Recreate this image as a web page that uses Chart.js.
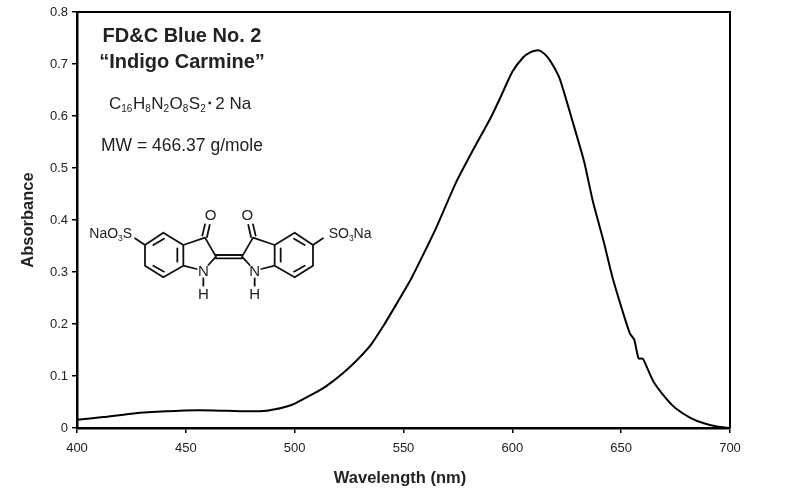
<!DOCTYPE html>
<html>
<head>
<meta charset="utf-8">
<title>FD&amp;C Blue No. 2</title>
<script src="https://cdn.jsdelivr.net/npm/chart.js@4"></script>
<style>
  html, body { margin: 0; padding: 0; background: #fff; }
  canvas { display: block; }
</style>
</head>
<body>
<canvas id="chart" width="800" height="490"></canvas>
<script>
// Данные кривой поглощения
const wavelengths = [400, 412, 426, 441, 456, 469, 480, 487, 491, 496, 500, 505, 510, 515, 522, 528, 535, 541, 547, 553, 559, 565, 574, 582, 590, 595, 600, 605, 608, 611, 613, 616, 619, 622, 628, 633, 637, 642, 646, 651, 654, 656, 658, 660, 662, 665, 671, 675, 682, 688, 694, 700];
const absorbance = [0.016, 0.021, 0.028, 0.032, 0.034, 0.033, 0.032, 0.033, 0.036, 0.041, 0.047, 0.058, 0.069, 0.082, 0.105, 0.128, 0.160, 0.198, 0.240, 0.283, 0.333, 0.385, 0.471, 0.535, 0.596, 0.640, 0.685, 0.713, 0.722, 0.726, 0.725, 0.714, 0.695, 0.669, 0.585, 0.512, 0.436, 0.358, 0.290, 0.220, 0.182, 0.170, 0.134, 0.133, 0.115, 0.088, 0.055, 0.038, 0.019, 0.009, 0.003, 0];
const xTicks = [400, 450, 500, 550, 600, 650, 700];
const yTicks = ['0', '0.1', '0.2', '0.3', '0.4', '0.5', '0.6', '0.7', '0.8'];

const FONT = '"Liberation Sans", Arial, sans-serif';

// Подпись с подстрочными индексами: [текст, индекс]
const formulaParts = [['C', '16'], ['H', '8'], ['N', '2'], ['O', '8'], ['S', '2']];

function drawText(ctx, text, x, y, font, align) {
    ctx.font = font;
    ctx.textAlign = align || 'left';
    ctx.textBaseline = 'alphabetic';
    ctx.fillText(text, x, y);
}

function drawFormula(ctx, x, y) {
    let cx = x;
    formulaParts.forEach(part => {
        drawText(ctx, part[0], cx, y, '17px ' + FONT);
        cx += ctx.measureText(part[0]).width;
        drawText(ctx, part[1], cx, y + 3, '10px ' + FONT);
        cx += ctx.measureText(part[1]).width + 0.5;
    });
    ctx.beginPath();
    ctx.arc(cx + 3.5, y - 6, 1.4, 0, Math.PI * 2);
    ctx.fill();
    drawText(ctx, '2 Na', cx + 9, y, '17px ' + FONT);
}

// Структурная формула: координаты относительно кропа, как на картинке
function drawMolecule(ctx) {
    const px = v => 80 + v / 3;
    const py = v => 195 + v / 3;
    const mirror = v => 894 - v;
    const seg = (a, b, c, d) => {
        ctx.moveTo(px(a), py(b));
        ctx.lineTo(px(c), py(d));
    };
    const both = (a, b, c, d) => {
        seg(a, b, c, d);
        seg(mirror(a), b, mirror(c), d);
    };

    ctx.strokeStyle = '#111';
    ctx.lineWidth = 1.8;
    ctx.lineCap = 'round';
    ctx.beginPath();
    // бензольные кольца
    both(195, 150, 250, 113);
    both(250, 113, 310, 150);
    both(310, 150, 310, 212);
    both(310, 212, 250, 247);
    both(250, 247, 195, 212);
    both(195, 212, 195, 150);
    both(220, 150, 252, 131);
    both(292, 160, 292, 200);
    both(220, 212, 252, 230);
    // пятичленные кольца
    both(310, 150, 375, 128);
    both(375, 128, 408, 185);
    both(408, 185, 385, 210);
    both(350, 222, 310, 212);
    // C=O
    both(367, 122, 375, 88);
    both(381, 126, 389, 90);
    // N-H
    both(370, 250, 370, 272);
    // S
    both(195, 150, 165, 130);
    // центральная двойная связь
    seg(408, 180, 486, 180);
    seg(408, 190, 486, 190);
    ctx.stroke();

    ctx.fillStyle = '#222';
    const f = '15px ' + FONT;
    drawText(ctx, 'O', px(392), py(75), f, 'center');
    drawText(ctx, 'O', px(mirror(392)), py(75), f, 'center');
    drawText(ctx, 'N', px(370), py(243), f, 'center');
    drawText(ctx, 'N', px(mirror(370)), py(243), f, 'center');
    drawText(ctx, 'H', px(370), py(312), f, 'center');
    drawText(ctx, 'H', px(mirror(370)), py(312), f, 'center');

    // NaO3S слева
    const g = '14px ' + FONT;
    const s = '8.5px ' + FONT;
    let x = px(28);
    const y = py(129);
    drawText(ctx, 'NaO', x, y, g);
    x += ctx.measureText('NaO').width;
    drawText(ctx, '3', x, y + 3, s);
    x += ctx.measureText('3').width;
    drawText(ctx, 'S', x, y, g);
    // SO3Na справа
    x = px(746);
    drawText(ctx, 'SO', x, y, g);
    x += ctx.measureText('SO').width;
    drawText(ctx, '3', x, y + 3, s);
    x += ctx.measureText('3').width;
    drawText(ctx, 'Na', x, y, g);
}

const annotationsPlugin = {
    id: 'annotations',
    afterDraw(chart) {
        const ctx = chart.ctx;
        const area = chart.chartArea;
        ctx.save();
        // рамка сверху и справа
        ctx.strokeStyle = '#000';
        ctx.lineWidth = 2;
        ctx.beginPath();
        ctx.moveTo(area.left, area.top);
        ctx.lineTo(area.right, area.top);
        ctx.lineTo(area.right, area.bottom);
        ctx.stroke();

        ctx.fillStyle = '#222';
        drawText(ctx, 'FD&C Blue No. 2', 182, 42, 'bold 20px ' + FONT, 'center');
        drawText(ctx, '\u201CIndigo Carmine\u201D', 182, 68, 'bold 20px ' + FONT, 'center');
        drawFormula(ctx, 109, 109);
        drawText(ctx, 'MW = 466.37 g/mole', 182, 151, '17.5px ' + FONT, 'center');
        // подпись оси X чуть левее центра оси, как на оригинале
        drawText(ctx, 'Wavelength (nm)', 400, 483, 'bold 16.5px ' + FONT, 'center');
        drawMolecule(ctx);
        ctx.restore();
    }
};

new Chart(document.getElementById('chart').getContext('2d'), {
    type: 'line',
    data: {
        datasets: [{
            data: wavelengths.map((w, i) => ({ x: w, y: absorbance[i] })),
            borderColor: '#000',
            borderWidth: 2,
            pointRadius: 0,
            tension: 0.2,
            fill: false
        }]
    },
    options: {
        responsive: false,
        animation: false,
        layout: { padding: { top: 12, left: 19, right: 70, bottom: 2 } },
        plugins: { legend: { display: false }, tooltip: { enabled: false } },
        scales: {
            x: {
                type: 'linear',
                min: 400,
                max: 700,
                afterBuildTicks: scale => { scale.ticks = xTicks.map(v => ({ value: v })); },
                afterFit: scale => { scale.height = 60; },
                border: { color: '#000', width: 2.5 },
                grid: { drawOnChartArea: false, color: '#000', lineWidth: 1.5, tickLength: 5 },
                ticks: { color: '#222', font: { family: FONT, size: 13 }, maxRotation: 0, padding: 8 }
            },
            y: {
                min: 0,
                max: 0.8,
                afterBuildTicks: scale => { scale.ticks = yTicks.map(v => ({ value: Number(v) })); },
                afterFit: scale => { scale.width = 58; },
                border: { color: '#000', width: 2.5 },
                grid: { drawOnChartArea: false, color: '#000', lineWidth: 1.5, tickLength: 5 },
                ticks: {
                    color: '#222',
                    font: { family: FONT, size: 13 },
                    padding: 4,
                    callback: (value, i) => yTicks[i]
                },
                title: { display: true, text: 'Absorbance', color: '#222', font: { family: FONT, size: 16.5, weight: 'bold' }, padding: { top: 0, bottom: 0 } }
            }
        }
    },
    plugins: [annotationsPlugin]
});
</script>
</body>
</html>
